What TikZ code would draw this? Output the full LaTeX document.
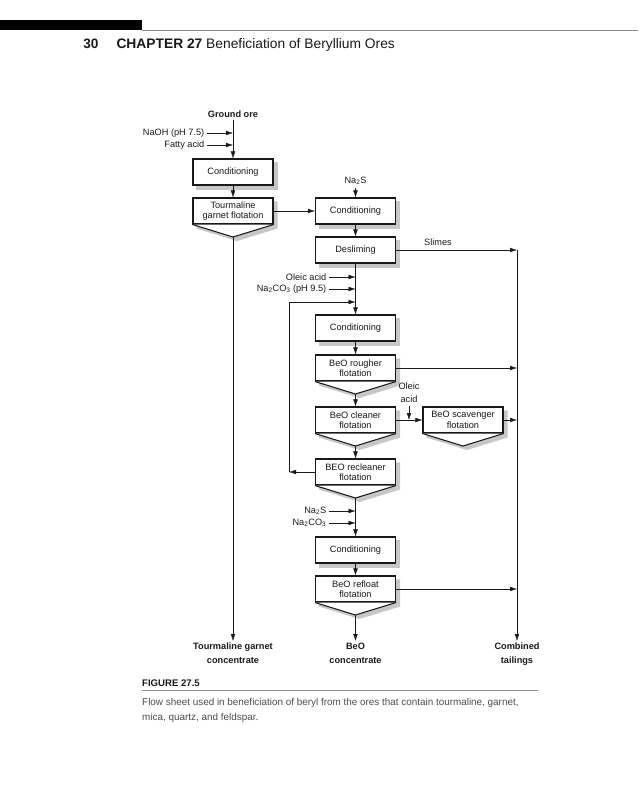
\documentclass[tikz,border=0pt]{standalone}
\usepackage{fontspec}
\setmainfont{Liberation Sans}
\usetikzlibrary{arrows.meta, backgrounds}
\tikzset{>={Latex[length=7pt,width=4.6pt]}}
\tikzset{
  box/.style={draw, fill=white, minimum width=80pt, minimum height=26pt, inner sep=1pt, align=center, font=\fontsize{9.2}{10.5}\selectfont},
  lbl/.style={inner sep=2.5pt, align=center, font=\fontsize{9.2}{11}\selectfont},
  blbl/.style={inner sep=2pt, align=center, font=\fontsize{9.2}{14}\selectfont\bfseries},
  shadowfill/.style={fill=black!22},
}

\begin{document}
\begin{tikzpicture}[x=1pt, y=-1pt, line width=1.05pt, color=black!90]
    \useasboundingbox (0,0) rectangle (638,787);
    \fill[black] (0,20) rectangle (142,30);
    \draw[black!45, line width=.6pt] (142,30) -- (638,30);
    \node[anchor=base, inner sep=0pt, font=\fontsize{13.6}{16}\selectfont\bfseries] (pg) at (91,48) {30};
    \node[anchor=base west, inner sep=0pt, font=\fontsize{13.8}{16}\selectfont] (hd) at (116,48) {\textbf{CHAPTER 27} Beneficiation of Beryllium Ores};

    \node[box] (cond1) at (233,172) {Conditioning};
    \node[box] (tg) at (233,211) {Tourmaline\\garnet flotation};
    \node[box] (cond2) at (355.5,211) {Conditioning};
    \node[box] (desl) at (355.5,250) {Desliming};
    \node[box] (cond3) at (355.5,328) {Conditioning};
    \node[box] (rough) at (355.5,368) {BeO rougher\\flotation};
    \node[box] (clean) at (355.5,420) {BeO cleaner\\flotation};
    \node[box] (scav) at (463,420) {BeO scavenger\\flotation};
    \node[box] (reclean) at (355.5,472) {BEO recleaner\\flotation};
    \node[box] (cond4) at (355.5,550) {Conditioning};
    \node[box] (refloat) at (355.5,589) {BeO refloat\\flotation};
    \foreach \n in {tg,rough,clean,scav,reclean,refloat}{
        \coordinate (\n-tip) at ([yshift=-12.5pt]\n.south);
        \draw[fill=white] (\n.south west) -- (\n-tip) -- (\n.south east);
    }
    \begin{pgfonlayer}{background}
        \foreach \n in {cond1,cond2,desl,cond3,cond4}
            \fill[shadowfill] ([shift={(4pt,-4pt)}]\n.north west) rectangle ([shift={(4pt,-4pt)}]\n.south east);
        \foreach \n in {tg,rough,clean,scav,reclean,refloat}
            \fill[shadowfill] ([shift={(4pt,-4pt)}]\n.north west) -- ([shift={(4pt,-4pt)}]\n.north east)
                -- ([shift={(4pt,-4pt)}]\n.south east) -- ([shift={(4pt,-4pt)}]\n-tip)
                -- ([shift={(4pt,-4pt)}]\n.south west) -- cycle;
    \end{pgfonlayer}

    \node[blbl] (go) at (233,114) {Ground ore};
    \node[lbl, anchor=east] (naoh) at (207,133) {NaOH (pH 7.5)};
    \node[lbl, anchor=east] (fatty) at (207,145) {Fatty acid};
    \node[lbl] (nas1) at (355.5,181) {Na\textsubscript{2}S};
    \node[lbl, anchor=east] (ole1) at (329,277) {Oleic acid};
    \node[lbl, anchor=east] (nac1) at (329,289) {Na\textsubscript{2}CO\textsubscript{3} (pH 9.5)};
    \node[lbl, anchor=south] (slimes) at (438,248) {Slimes};
    \node[lbl, font=\fontsize{9.2}{13}\selectfont] (ole2) at (409,393) {Oleic\\acid};
    \node[lbl, anchor=east] (nas2) at (329,511) {Na\textsubscript{2}S};
    \node[lbl, anchor=east] (nac2) at (329,523) {Na\textsubscript{2}CO\textsubscript{3}};
    \node[blbl, anchor=north] (tgc) at (233,641) {Tourmaline garnet\\concentrate};
    \node[blbl, anchor=north] (bec) at (355.5,641) {BeO\\concentrate};
    \node[blbl, anchor=north] (ct) at (517,641) {Combined\\tailings};
    \coordinate (tail) at (517,250);
    \coordinate (loop) at (289,302);

    \draw[->] (go) -- (cond1);
    \draw[->] (naoh) -- (naoh -| go);
    \draw[->] (fatty) -- (fatty -| go);
    \draw[->] (cond1) -- (tg);
    \draw[->] (tg) -- (cond2);
    \draw[->] (tg-tip) -- (tgc);
    \draw[->] (nas1) -- (cond2);
    \draw[->] (cond2) -- (desl);
    \draw[->] (desl) -- (tail);
    \draw[->] (tail) -- (ct);
    \draw[->] (desl) -- (cond3);
    \draw[->] (ole1) -- (ole1 -| desl);
    \draw[->] (nac1) -- (nac1 -| desl);
    \draw[->] (reclean) -- (reclean -| loop);
    \draw[->] (reclean -| loop) -- (loop) -- (loop -| desl);
    \draw[->] (cond3) -- (rough);
    \draw[->] (rough) -- (rough -| tail);
    \draw[->] (rough-tip) -- (clean);
    \draw[->] (clean) -- (scav);
    \draw[->] (ole2) -- (ole2 |- clean);
    \draw[->] (scav) -- (scav -| tail);
    \draw[->] (clean-tip) -- (reclean);
    \draw[->] (reclean-tip) -- (cond4);
    \draw[->] (nas2) -- (nas2 -| cond4);
    \draw[->] (nac2) -- (nac2 -| cond4);
    \draw[->] (cond4) -- (refloat);
    \draw[->] (refloat) -- (refloat -| tail);
    \draw[->] (refloat-tip) -- (bec);

    \node[anchor=base west, inner sep=0pt, font=\fontsize{9.6}{11}\selectfont\bfseries] (fig) at (142,686) {FIGURE 27.5};
    \draw[black!45, line width=.6pt] (142,690) -- (538,690);
    \node[anchor=base west, inner sep=0pt, text=black!70, font=\fontsize{9.9}{11}\selectfont] (cap1) at (142,705) {Flow sheet used in beneficiation of beryl from the ores that contain tourmaline, garnet,};
    \node[anchor=base west, inner sep=0pt, text=black!70, font=\fontsize{9.9}{11}\selectfont] (cap2) at (142,720) {mica, quartz, and feldspar.};
\end{tikzpicture}
\end{document}
